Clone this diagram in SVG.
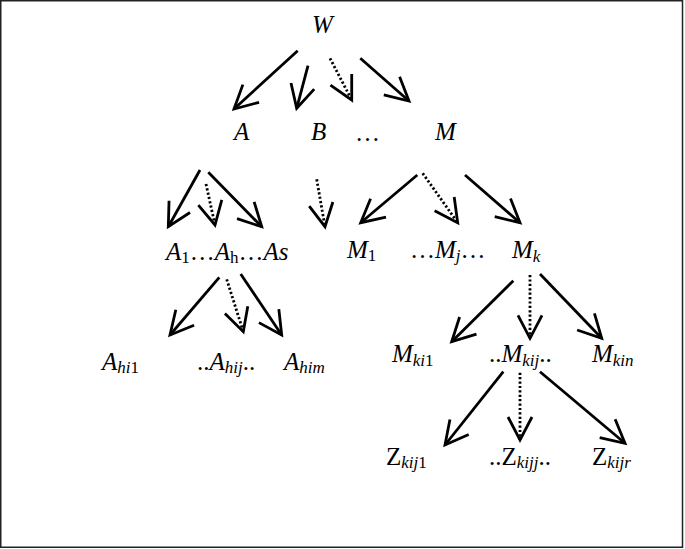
<svg xmlns="http://www.w3.org/2000/svg" width="685" height="549" viewBox="0 0 685 549">
<defs>
<style>
.t{font-family:"Liberation Serif","Times New Roman",serif;font-size:25px;fill:#000}
.i{font-style:italic}
.s{font-size:17px}
.e{stroke:#000;stroke-width:2.8;fill:none;marker-end:url(#v)}
.d{stroke-dasharray:2.2,2.2}
</style>
<marker id="v" markerUnits="userSpaceOnUse" viewBox="-26 -14 30 28" markerWidth="30" markerHeight="28" refX="0" refY="0" orient="auto" overflow="visible">
<path d="M-23,-12 L0,0 L-23,12" fill="none" stroke="#000" stroke-width="2.8" stroke-linejoin="miter"/>
</marker>
</defs>
<rect x="0" y="0" width="685" height="549" fill="#fff"/>
<rect x="0.75" y="0.75" width="681.75" height="546.5" fill="none" stroke="#222" stroke-width="1.5"/>
<g id="connectors">
<line class="e" x1="297.7" y1="50.7" x2="234" y2="109"/>
<line class="e" x1="308" y1="65.7" x2="296.7" y2="108.3"/>
<line class="e d" x1="330" y1="58.3" x2="351.7" y2="100"/>
<line class="e" x1="360.3" y1="58.3" x2="409" y2="101"/>
<line class="e" x1="200" y1="170" x2="168.3" y2="226.7"/>
<line class="e d" x1="206" y1="184" x2="215" y2="225"/>
<line class="e" x1="208.3" y1="172.3" x2="261.7" y2="226.7"/>
<line class="e d" x1="316.7" y1="179.3" x2="325" y2="226.7"/>
<line class="e" x1="417.3" y1="175" x2="360.7" y2="222.7"/>
<line class="e d" x1="422.7" y1="173.3" x2="457.7" y2="222.7"/>
<line class="e" x1="465" y1="175" x2="520" y2="222.7"/>
<line class="e" x1="219.3" y1="277.3" x2="170" y2="335"/>
<line class="e d" x1="226.7" y1="279.3" x2="243.3" y2="331.7"/>
<line class="e" x1="240.7" y1="274" x2="281.7" y2="335"/>
<line class="e" x1="513.3" y1="280.7" x2="451.7" y2="341.7"/>
<line class="e d" x1="530" y1="275" x2="530" y2="338.3"/>
<line class="e" x1="540" y1="274" x2="601.7" y2="338.3"/>
<line class="e" x1="503.3" y1="371.7" x2="445" y2="445"/>
<line class="e d" x1="520" y1="372.7" x2="520" y2="440"/>
<line class="e" x1="540" y1="371.7" x2="625" y2="443.3"/>
</g>
<g id="W"><text class="t i" x="312" y="33">W</text></g>
<g id="A"><text class="t i" x="234" y="140">A</text></g>
<g id="B"><text class="t i" x="311" y="140">B</text></g>
<g id="dots1"><text class="t" x="355" y="141">…</text></g>
<g id="M"><text class="t i" x="435" y="140">M</text></g>
<g id="Alist"><text class="t" x="166" y="260"><tspan class="i">A</tspan><tspan class="s" dy="3">1</tspan><tspan dy="-3">…</tspan><tspan class="i">A</tspan><tspan class="s" dy="3">h</tspan><tspan dy="-3">…</tspan><tspan class="i">As</tspan></text></g>
<g id="M1"><text class="t" x="347" y="258"><tspan class="i">M</tspan><tspan class="s" dy="3">1</tspan></text></g>
<g id="Mj"><text class="t" x="410" y="258">…<tspan class="i">M</tspan><tspan class="s i" dy="3">j</tspan><tspan dy="-3">…</tspan></text></g>
<g id="Mk"><text class="t" x="512" y="258"><tspan class="i">M</tspan><tspan class="s i" dy="4">k</tspan></text></g>
<g id="Ahi1"><text class="t" x="102" y="370"><tspan class="i">A</tspan><tspan class="s i" dy="3">hi</tspan><tspan class="s">1</tspan></text></g>
<g id="Ahij"><text class="t" x="197" y="370">..<tspan class="i">A</tspan><tspan class="s i" dy="3">hij</tspan><tspan dy="-3">..</tspan></text></g>
<g id="Ahim"><text class="t" x="284" y="370"><tspan class="i">A</tspan><tspan class="s i" dy="3">him</tspan></text></g>
<g id="Mki1"><text class="t" x="392" y="362"><tspan class="i">M</tspan><tspan class="s i" dy="4">ki</tspan><tspan class="s">1</tspan></text></g>
<g id="Mkij"><text class="t" x="489" y="362">..<tspan class="i">M</tspan><tspan class="s i" dy="4">kij</tspan><tspan dy="-4">..</tspan></text></g>
<g id="Mkin"><text class="t" x="592" y="362"><tspan class="i">M</tspan><tspan class="s i" dy="4">kin</tspan></text></g>
<g id="Zkij1"><text class="t" x="386" y="465"><tspan>Z</tspan><tspan class="s i" dy="3">kij</tspan><tspan class="s">1</tspan></text></g>
<g id="Zkijj"><text class="t" x="489" y="465">..<tspan>Z</tspan><tspan class="s i" dy="3">kijj</tspan><tspan dy="-3">..</tspan></text></g>
<g id="Zkijr"><text class="t" x="592" y="465"><tspan>Z</tspan><tspan class="s i" dy="3">kijr</tspan></text></g>
</svg>
